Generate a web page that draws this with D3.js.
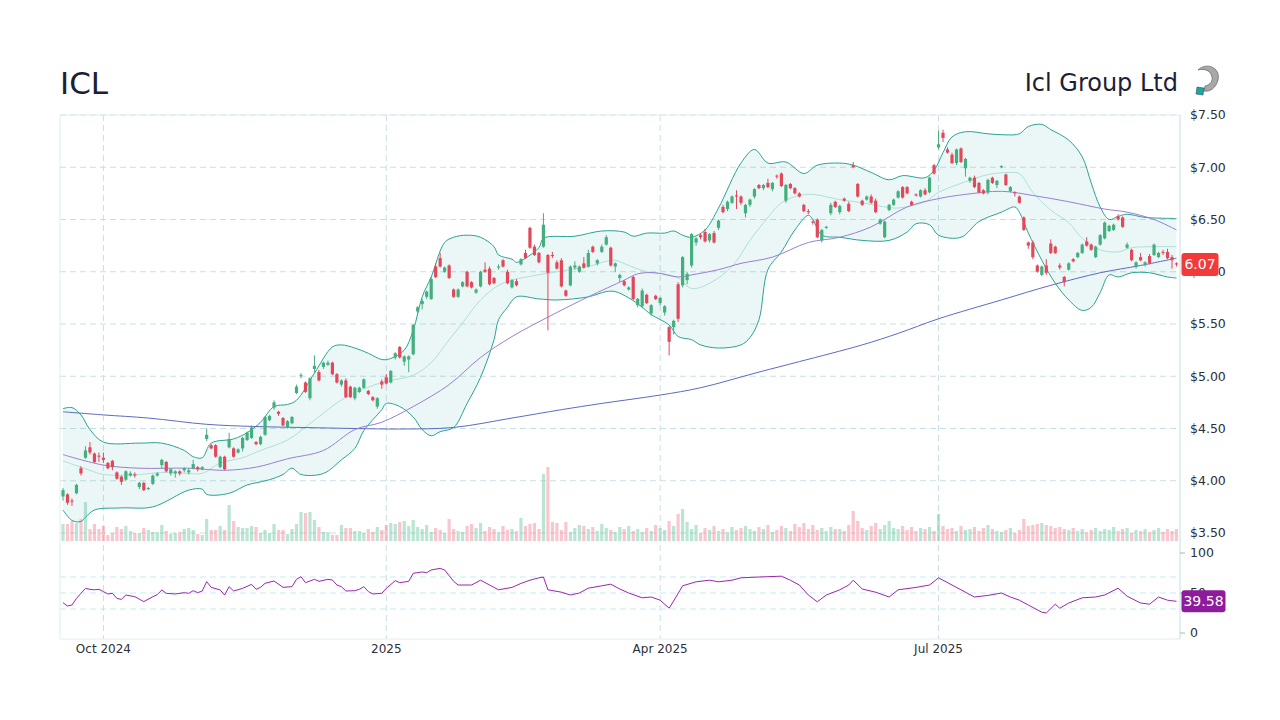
<!DOCTYPE html>
<html><head><meta charset="utf-8">
<script src="https://cdn.jsdelivr.net/npm/d3@7"></script>
<style>body{margin:0;background:#fff;}svg{display:block;font-family:"DejaVu Sans",sans-serif;}</style>
</head><body><svg id="c" width="1280" height="720"></svg>
<script>
// ---------- DATA ----------
const firstDay = "2024-09-18", lastDay = "2025-09-16";
const holidays = ["2024-11-28","2024-12-25","2025-01-01","2025-01-09","2025-01-20","2025-02-17","2025-04-18","2025-05-26","2025-06-19","2025-07-04","2025-09-01"];
const open = [3.85,3.87,3.81,3.88,4.12,4.22,4.32,4.26,4.24,4.22,4.17,4.19,4.08,4.04,4.01,4.05,4.06,3.94,3.98,3.92,3.97,4.05,4.15,4.18,4.07,4.07,4.09,4.10,4.08,4.12,4.13,4.11,4.40,4.34,4.34,4.13,4.23,4.32,4.31,4.27,4.31,4.39,4.41,4.37,4.35,4.44,4.58,4.70,4.66,4.60,4.51,4.55,4.84,5.00,4.94,4.79,5.07,5.04,5.09,5.11,5.13,5.02,4.92,4.96,4.90,4.79,4.85,4.89,4.86,4.80,4.71,4.95,4.99,4.94,5.18,5.28,5.14,5.16,5.21,5.62,5.69,5.76,5.74,6.05,6.13,6.00,6.06,5.83,5.76,5.86,6.00,5.90,5.80,5.86,6.02,6.03,5.94,6.04,6.11,6.00,5.85,5.91,6.07,6.18,6.42,6.24,6.18,6.24,6.16,6.16,6.09,6.11,5.82,5.87,6.04,6.00,6.08,6.05,6.24,6.08,6.19,6.26,6.23,6.05,5.94,5.91,5.83,5.95,5.68,5.67,5.78,5.60,5.77,5.70,5.61,5.47,5.47,5.88,5.87,5.92,6.06,6.28,6.35,6.38,6.30,6.37,6.42,6.62,6.60,6.66,6.73,6.72,6.56,6.64,6.72,6.83,6.80,6.85,6.79,6.92,6.94,6.68,6.84,6.80,6.75,6.64,6.58,6.48,6.50,6.30,6.42,6.56,6.67,6.57,6.70,6.65,7.02,6.84,6.68,6.69,6.72,6.68,6.46,6.33,6.59,6.64,6.71,6.81,6.81,6.67,6.74,6.72,6.78,6.76,7.02,7.19,7.33,7.17,7.12,7.04,7.18,6.99,6.87,6.90,6.85,6.78,6.76,6.90,6.83,7.00,6.93,6.77,6.76,6.72,6.52,6.28,6.28,6.06,5.97,6.06,6.27,6.24,6.06,5.95,6.02,6.12,6.14,6.18,6.29,6.26,6.14,6.26,6.32,6.39,6.40,6.53,6.52,6.23,6.21,6.05,6.14,6.07,6.15,6.16,6.14,6.19,6.19,6.14,6.08];
const high = [3.93,3.88,3.83,3.97,4.14,4.33,4.37,4.27,4.27,4.27,4.18,4.20,4.09,4.05,4.10,4.09,4.08,3.99,3.99,3.94,4.06,4.08,4.21,4.19,4.12,4.10,4.10,4.13,4.12,4.20,4.14,4.14,4.50,4.35,4.35,4.24,4.24,4.46,4.32,4.31,4.42,4.47,4.53,4.38,4.43,4.62,4.63,4.77,4.67,4.61,4.58,4.62,4.92,5.03,4.95,4.99,5.20,5.06,5.14,5.15,5.14,5.03,4.97,4.98,4.91,4.90,4.90,4.98,4.87,4.81,4.80,4.97,5.02,5.06,5.23,5.29,5.20,5.20,5.50,5.67,5.74,5.82,5.95,6.08,6.18,6.05,6.07,5.84,5.84,5.91,6.01,5.91,5.84,6.01,6.09,6.05,5.95,6.07,6.12,6.02,5.93,5.93,6.13,6.21,6.43,6.26,6.19,6.56,6.17,6.19,6.11,6.13,5.83,6.06,6.10,6.06,6.14,6.21,6.25,6.12,6.26,6.35,6.24,6.09,5.98,5.92,5.86,5.96,5.75,5.84,5.79,5.69,5.78,5.76,5.68,5.48,5.54,5.90,6.15,6.00,6.37,6.33,6.37,6.41,6.37,6.39,6.50,6.64,6.68,6.73,6.78,6.73,6.65,6.70,6.80,6.84,6.84,6.89,6.86,6.93,6.95,6.84,6.85,6.81,6.76,6.65,6.60,6.49,6.51,6.41,6.44,6.66,6.68,6.64,6.71,6.67,7.05,6.85,6.69,6.73,6.74,6.70,6.51,6.49,6.65,6.70,6.78,6.82,6.82,6.68,6.75,6.79,6.80,6.91,7.03,7.35,7.36,7.19,7.14,7.18,7.19,7.09,6.91,6.92,6.86,6.79,6.89,6.91,6.88,7.02,6.94,6.82,6.77,6.73,6.53,6.29,6.30,6.07,6.06,6.12,6.31,6.25,6.08,5.96,6.09,6.13,6.19,6.27,6.33,6.27,6.25,6.36,6.48,6.45,6.46,6.55,6.53,6.28,6.22,6.10,6.18,6.10,6.17,6.27,6.19,6.21,6.22,6.16,6.09];
const low = [3.81,3.77,3.76,3.87,4.05,4.21,4.25,4.17,4.18,4.17,4.11,4.10,4.01,3.96,4.00,4.04,4.03,3.92,3.90,3.91,3.96,4.04,4.12,4.08,4.05,4.03,4.05,4.08,4.06,4.11,4.09,4.10,4.38,4.30,4.22,4.12,4.10,4.31,4.22,4.26,4.28,4.38,4.40,4.34,4.34,4.43,4.57,4.68,4.62,4.52,4.50,4.54,4.83,4.98,4.84,4.77,5.03,4.95,5.07,5.10,5.01,4.93,4.90,4.79,4.79,4.77,4.84,4.88,4.82,4.76,4.69,4.88,4.92,4.93,5.16,5.17,5.10,5.04,5.20,5.60,5.64,5.74,5.73,5.94,6.04,5.99,5.93,5.75,5.75,5.85,5.85,5.84,5.79,5.85,5.99,5.87,5.88,6.02,6.04,5.88,5.84,5.86,6.06,6.12,6.22,6.15,6.08,6.23,5.44,6.13,6.02,5.85,5.76,5.86,6.02,5.99,6.03,6.04,6.18,6.06,6.18,6.25,6.05,6.00,5.90,5.86,5.82,5.73,5.66,5.65,5.69,5.58,5.73,5.68,5.58,5.20,5.40,5.52,5.85,5.88,6.04,6.25,6.31,6.28,6.28,6.27,6.40,6.56,6.58,6.65,6.60,6.64,6.52,6.62,6.70,6.79,6.78,6.80,6.77,6.89,6.81,6.66,6.79,6.74,6.71,6.57,6.55,6.45,6.32,6.28,6.41,6.54,6.61,6.55,6.67,6.57,6.99,6.71,6.63,6.68,6.65,6.56,6.45,6.32,6.58,6.63,6.70,6.70,6.74,6.63,6.72,6.71,6.73,6.75,6.93,7.17,7.24,7.13,7.03,7.02,7.04,6.91,6.85,6.80,6.75,6.74,6.74,6.84,6.80,6.99,6.82,6.76,6.72,6.65,6.39,6.22,6.12,5.99,5.96,5.97,6.17,6.17,6.02,5.86,6.01,6.09,6.13,6.17,6.24,6.20,6.13,6.25,6.31,6.38,6.39,6.49,6.42,6.22,6.10,6.03,6.10,6.05,6.07,6.15,6.13,6.16,6.12,6.03,6.05];
const close = [3.91,3.79,3.80,3.96,4.07,4.29,4.27,4.18,4.23,4.20,4.12,4.13,4.02,3.99,4.09,4.07,4.05,3.98,3.91,3.93,4.05,4.07,4.20,4.09,4.11,4.09,4.07,4.12,4.10,4.16,4.11,4.13,4.44,4.31,4.23,4.23,4.11,4.40,4.23,4.30,4.41,4.46,4.51,4.35,4.42,4.61,4.62,4.75,4.64,4.53,4.57,4.61,4.90,5.01,4.85,4.98,5.10,4.96,5.13,5.13,5.02,4.94,4.96,4.80,4.80,4.89,4.89,4.97,4.83,4.77,4.79,4.92,4.93,5.05,5.22,5.18,5.19,5.19,5.49,5.66,5.72,5.81,5.93,5.95,6.05,6.04,5.94,5.76,5.83,5.90,5.86,5.85,5.83,6.00,6.00,5.88,5.89,6.05,6.05,5.89,5.92,5.87,6.12,6.13,6.23,6.16,6.09,6.45,5.99,6.15,6.03,5.86,5.77,6.05,6.06,6.05,6.04,6.18,6.19,6.11,6.24,6.33,6.06,6.08,5.97,5.87,5.85,5.74,5.74,5.82,5.70,5.68,5.74,5.75,5.67,5.33,5.53,5.55,6.14,5.98,6.36,6.32,6.33,6.29,6.36,6.28,6.49,6.57,6.67,6.72,6.72,6.66,6.64,6.69,6.79,6.80,6.83,6.81,6.85,6.91,6.82,6.83,6.80,6.75,6.72,6.58,6.57,6.47,6.33,6.40,6.43,6.64,6.62,6.63,6.68,6.58,7.00,6.72,6.64,6.72,6.66,6.57,6.50,6.48,6.64,6.69,6.77,6.71,6.75,6.64,6.73,6.78,6.74,6.90,6.94,7.22,7.28,7.14,7.04,7.17,7.05,7.08,6.90,6.81,6.76,6.75,6.88,6.85,6.87,7.01,6.83,6.81,6.75,6.66,6.40,6.25,6.14,6.00,6.05,5.99,6.18,6.18,6.04,5.90,6.08,6.10,6.18,6.26,6.25,6.21,6.24,6.35,6.47,6.44,6.45,6.50,6.43,6.26,6.11,6.09,6.11,6.09,6.08,6.26,6.18,6.18,6.13,6.11,6.07];
// volume in millions of shares
const volume = [1.7,1.7,2.0,1.8,2.2,3.9,1.2,1.7,1.2,1.5,0.6,0.8,1.4,1.2,1.5,1.0,0.8,0.8,1.3,1.1,0.9,0.9,1.6,1.0,0.7,0.8,0.9,1.2,1.3,1.1,0.7,0.6,2.2,1.1,1.1,1.5,1.1,3.6,2.0,1.4,1.3,1.3,1.5,1.4,0.8,1.1,0.8,1.7,1.1,1.1,0.7,1.2,1.7,2.9,2.8,2.9,2.1,1.4,0.9,0.9,0.6,0.6,1.6,1.3,1.3,1.0,1.0,0.8,1.2,0.9,1.4,1.1,1.6,1.8,1.7,1.9,2.0,1.5,2.1,1.4,1.2,1.6,0.9,1.3,1.1,0.8,2.2,1.2,1.0,0.9,1.5,1.7,1.3,1.8,1.0,1.4,1.2,0.9,1.5,1.1,1.2,1.0,2.3,1.5,1.7,1.8,1.2,6.7,7.4,1.9,1.8,1.1,1.9,0.9,1.3,1.6,1.5,1.2,1.4,1.0,1.7,1.3,1.1,0.9,1.4,1.2,1.5,1.0,1.2,0.9,1.3,1.0,1.6,1.3,1.1,2.0,1.5,2.7,3.2,1.9,1.2,1.6,0.8,1.3,1.1,1.5,1.0,1.2,0.9,1.4,1.1,1.3,1.5,1.2,1.0,1.4,1.2,1.6,0.9,1.1,1.5,1.3,1.0,1.7,1.4,1.8,1.2,1.6,1.1,1.3,1.0,1.4,1.2,1.2,1.0,1.6,3.0,2.0,1.3,1.1,1.5,1.8,1.2,1.6,2.0,1.3,1.2,1.5,1.1,1.4,1.0,1.3,1.2,1.4,1.0,2.7,1.5,1.2,1.3,1.0,1.5,1.1,1.2,1.4,1.0,1.3,1.6,1.2,1.0,0.9,1.1,1.3,0.8,1.1,2.2,1.5,1.6,1.7,1.8,1.6,1.5,1.3,1.4,1.2,1.1,1.3,1.0,1.2,0.9,1.1,1.3,1.0,1.2,1.1,1.4,1.0,1.2,1.3,0.8,1.1,1.0,1.2,0.9,1.1,1.3,0.9,1.2,1.0,1.2];
// indicator readings: [trading-day index, value]
const sma200 = [[0,4.66],[9,4.63],[19,4.60],[32,4.54],[42,4.52],[53,4.51],[65,4.50],[75,4.495],[87,4.51],[100,4.60],[111,4.68],[120,4.74],[133,4.82],[142,4.89],[155,5.04],[164,5.14],[178,5.30],[186,5.41],[195,5.55],[209,5.73],[220,5.87],[231,5.99],[240,6.06],[248,6.13]];
const sma50 = [[0,4.25],[9,4.15],[17,4.12],[28,4.12],[36,4.10],[43,4.13],[50,4.21],[58,4.29],[65,4.49],[71,4.56],[78,4.71],[86,4.92],[93,5.18],[100,5.38],[110,5.61],[117,5.76],[125,5.92],[128,5.98],[132,5.99],[137,5.95],[140,5.97],[146,6.02],[151,6.08],[158,6.14],[166,6.28],[173,6.33],[180,6.43],[188,6.62],[195,6.70],[201,6.74],[209,6.77],[216,6.73],[224,6.67],[232,6.60],[237,6.57],[243,6.50],[248,6.40]];
const bbUpper = [[0,4.69],[2,4.70],[4,4.63],[6,4.49],[9,4.37],[17,4.36],[22,4.36],[27,4.29],[29,4.23],[31,4.22],[33,4.36],[38,4.40],[41,4.46],[44,4.56],[47,4.71],[50,4.73],[52,4.77],[56,5.03],[60,5.28],[62,5.30],[65,5.27],[68,5.22],[71,5.16],[73,5.17],[76,5.25],[78,5.44],[80,5.76],[82,5.95],[85,6.28],[87,6.33],[90,6.35],[93,6.33],[96,6.24],[97,6.16],[100,6.12],[101,6.09],[103,6.13],[106,6.23],[107,6.32],[114,6.34],[120,6.39],[125,6.38],[127,6.34],[130,6.37],[134,6.37],[136,6.39],[138,6.35],[140,6.33],[143,6.40],[146,6.61],[151,7.04],[154,7.17],[157,7.04],[161,7.05],[165,6.94],[168,7.02],[173,7.04],[176,7.02],[180,6.95],[184,6.88],[187,6.92],[192,6.90],[194,6.97],[196,7.14],[198,7.29],[201,7.34],[206,7.32],[210,7.31],[213,7.32],[215,7.39],[218,7.41],[220,7.36],[224,7.26],[227,7.10],[229,6.85],[231,6.62],[233,6.50],[235,6.53],[237,6.55],[241,6.52],[248,6.51]];
const bbMiddle = [[0,4.19],[6,4.10],[9,4.06],[17,4.06],[22,4.08],[28,4.07],[31,4.07],[35,4.17],[40,4.22],[44,4.29],[50,4.39],[56,4.58],[63,4.80],[71,4.94],[78,5.01],[82,5.13],[86,5.35],[89,5.51],[93,5.73],[97,5.87],[100,5.92],[102,5.94],[110,6.00],[117,6.05],[121,6.10],[123,6.11],[126,6.06],[130,6.00],[135,5.97],[137,5.94],[140,5.84],[144,5.89],[149,6.05],[153,6.30],[157,6.52],[160,6.66],[164,6.73],[167,6.74],[173,6.69],[178,6.66],[183,6.62],[186,6.61],[192,6.67],[195,6.76],[201,6.86],[206,6.93],[211,6.95],[213,6.94],[216,6.76],[220,6.59],[224,6.47],[227,6.32],[231,6.21],[235,6.19],[238,6.23],[243,6.24],[248,6.24]];
const bbLower = [[0,3.72],[2,3.62],[4,3.61],[5,3.65],[7,3.72],[13,3.74],[20,3.75],[28,3.91],[31,3.92],[32,3.87],[37,3.88],[41,3.96],[43,3.98],[46,4.01],[49,4.06],[51,4.12],[53,4.06],[58,4.07],[62,4.20],[65,4.31],[67,4.48],[71,4.68],[72,4.74],[75,4.71],[78,4.61],[80,4.49],[82,4.43],[84,4.47],[87,4.51],[90,4.74],[93,4.99],[96,5.35],[97,5.54],[99,5.66],[101,5.76],[106,5.74],[110,5.73],[117,5.76],[121,5.81],[123,5.81],[126,5.75],[129,5.66],[131,5.59],[135,5.49],[137,5.38],[140,5.35],[142,5.30],[146,5.27],[151,5.30],[153,5.37],[155,5.54],[157,6.02],[160,6.19],[163,6.40],[166,6.54],[167,6.50],[169,6.35],[173,6.33],[178,6.30],[184,6.30],[188,6.38],[190,6.46],[193,6.45],[195,6.35],[200,6.33],[204,6.48],[209,6.57],[212,6.62],[213,6.57],[215,6.37],[218,6.11],[221,5.89],[224,5.73],[227,5.63],[229,5.66],[231,5.80],[233,5.97],[235,5.95],[238,5.99],[242,5.99],[246,5.95],[248,5.94]];
const rsi = [[0,37.9],[1,33.8],[2,35],[3,43.3],[4,49.6],[5,55.8],[6,54.6],[7,54],[8,54.6],[9,51.7],[10,48.8],[11,49.6],[12,43.3],[13,42],[14,47.5],[16,45.4],[18,39.2],[20,45.4],[21,47.9],[22,53.8],[23,49.6],[25,48.8],[27,50.4],[28,49.6],[29,52.9],[30,50.4],[31,52.5],[32,64.2],[33,57.1],[35,53.8],[36,47.5],[37,57.9],[38,52.5],[40,55.8],[42,60.8],[43,54.6],[44,57.1],[45,62.1],[47,65],[49,57.1],[51,57.9],[52,67.1],[53,70.4],[54,62.9],[56,67.1],[57,64.6],[59,67.1],[60,66.3],[61,60],[62,57.9],[63,52.5],[65,52.9],[66,54.6],[67,57.9],[68,51.7],[69,48.8],[71,49.6],[72,55.8],[74,65.4],[75,62.9],[77,64.6],[78,74.6],[80,76.3],[81,75.4],[82,78.8],[84,80.8],[85,78.8],[87,64.6],[88,60],[91,60],[93,66],[95,60],[97,54],[100,57],[102,62],[104,66],[106,69],[107,70],[108,54],[111,51],[113,47.5],[115,50],[117,56],[120,59],[122,61],[124,55],[126,50],[129,44],[131,45],[133,41],[135,31],[136,40],[138,59],[141,64],[144,66],[146,64],[149,66],[151,69],[155,70],[160,71],[162,66],[164,60],[166,47.5],[168,39],[170,47.5],[173,54],[175,60],[176,66],[178,55],[181,51],[184,45],[186,54],[190,57],[193,60],[195,69],[198,60],[200,54],[203,45],[206,47],[209,50],[211,45],[213,41],[215,35],[218,26],[219,25],[221,36],[222,31],[224,37.5],[227,44],[230,45],[232,47.5],[235,56],[237,46],[240,37.5],[242,36],[244,45],[246,41],[248,39.58]];
const priceTicks = [3.5,4.0,4.5,5.0,5.5,6.0,6.5,7.0,7.5];
const rsiTicks = [0,50,100];
const rsiGrid = [30,50,70];
const monthTicks = ["2024-10-01","2025-01-01","2025-04-01","2025-07-01"];
const monthLabels = ["Oct 2024","2025","Apr 2025","Jul 2025"];
const ticker = "ICL", company = "Icl Group Ltd";
const lastPriceLabel = "6.07", lastRsiLabel = "39.58";

// ---------- TRADING CALENDAR ----------
const tradeDates = [];
{
  let d = new Date(firstDay + "T00:00:00Z"); const end = new Date(lastDay + "T00:00:00Z");
  while (d <= end) {
    const wd = d.getUTCDay(); const key = d.toISOString().slice(0, 10);
    if (wd !== 0 && wd !== 6 && !holidays.includes(key)) tradeDates.push(key);
    d.setUTCDate(d.getUTCDate() + 1);
  }
}
// index of the last trading day on or before a date
const idxOfDate = s => { let k = 0; tradeDates.forEach((t, i) => { if (t <= s) k = i; }); return k; };

// ---------- LAYOUT ----------
const X0 = 60, X1 = 1180, PT = 115, PB = 541, RB = 639;
const svg = d3.select("#c");
const n = close.length;
const x = d3.scaleLinear().domain([-0.67, n - 0.22]).range([X0, X1]);
const y = d3.scaleLinear().domain([3.5, 7.5]).range([533, 115]);
const vy = d3.scaleLinear().domain([0, 8.5]).range([PB, PB - 85]);
const ry = d3.scaleLinear().domain([0, 100]).range([633, 553]);

const up = "#43ae7e", down = "#e2485b";
const textCol = "#2c2f3a";

const defs = svg.append("defs");
defs.append("clipPath").attr("id", "cp").append("rect").attr("x", X0).attr("y", PT).attr("width", X1 - X0).attr("height", PB - PT);
defs.append("clipPath").attr("id", "cr").append("rect").attr("x", X0).attr("y", PB).attr("width", X1 - X0).attr("height", RB - PB);

// titles
svg.append("text").attr("x", 60).attr("y", 94).attr("font-size", 31).attr("fill", "#1d2033").text(ticker);
svg.append("text").attr("x", 1178).attr("y", 91).attr("text-anchor", "end").attr("font-size", 24).attr("fill", "#1d2033").text(company);
// logo
const logo = svg.append("g");
logo.append("path").attr("d", "M1198,70 C1206,62 1221,67 1218,80 C1216,88 1210,92 1204,91 L1205,86 C1210,85 1213,81 1212,77 C1211,71 1205,68 1198,70 Z")
  .attr("fill", "#a8a8a8").attr("stroke", "#6f6f6f").attr("stroke-width", 0.8);
logo.append("path").attr("d", "M1197,87 L1204,88 L1203,95 L1196,94 Z").attr("fill", "#1aa7a8").attr("stroke", "#333").attr("stroke-width", 0.5);

// gridlines
const grid = svg.append("g");
grid.selectAll("line.h").data(priceTicks).join("line")
  .attr("x1", X0).attr("x2", X1).attr("y1", d => y(d)).attr("y2", d => y(d))
  .attr("stroke", "#c9dfe6").attr("stroke-dasharray", "6,4");
grid.selectAll("line.r").data(rsiGrid).join("line")
  .attr("x1", X0).attr("x2", X1).attr("y1", d => ry(d)).attr("y2", d => ry(d))
  .attr("stroke", "#c4ebf7").attr("stroke-dasharray", "6,4");
grid.selectAll("line.v").data(monthTicks).join("line")
  .attr("x1", d => x(idxOfDate(d))).attr("x2", d => x(idxOfDate(d))).attr("y1", PT).attr("y2", RB)
  .attr("stroke", "#c9dfe6").attr("stroke-dasharray", "6,4");

// borders
svg.append("line").attr("x1", X0).attr("x2", X1).attr("y1", PT).attr("y2", PT).attr("stroke", "#e2edf1");
svg.append("line").attr("x1", X0).attr("x2", X0).attr("y1", PT).attr("y2", RB).attr("stroke", "#e2edf1");
svg.append("line").attr("x1", X0).attr("x2", X1).attr("y1", RB).attr("y2", RB).attr("stroke", "#e2edf1");
svg.append("line").attr("x1", X1).attr("x2", X1).attr("y1", PT).attr("y2", RB).attr("stroke", "#c6dfe5");

const pg = svg.append("g").attr("clip-path", "url(#cp)");
const curve = d3.curveCatmullRom.alpha(0.5);
const pline = d3.line().x(d => x(d[0])).y(d => y(d[1])).curve(curve);

// Bollinger fill
const areaD = pline(bbUpper) + "L" + pline(bbLower.slice().reverse()).slice(1) + "Z";
pg.append("path").attr("d", areaD).attr("fill", "#26a69a").attr("fill-opacity", 0.09);

// volume
pg.selectAll("rect.vol").data(volume).join("rect")
  .attr("x", (d, i) => x(i) - 1.6).attr("width", 3.2)
  .attr("y", d => vy(d)).attr("height", d => PB - vy(d))
  .attr("fill", (d, i) => close[i] >= open[i] ? "#5cc095" : "#f0788a").attr("fill-opacity", 0.42);

// indicator lines
pg.append("path").attr("d", pline(bbMiddle)).attr("fill", "none").attr("stroke", "#aee0d6").attr("stroke-width", 1);
pg.append("path").attr("d", pline(bbUpper)).attr("fill", "none").attr("stroke", "#2aa392").attr("stroke-width", 1);
pg.append("path").attr("d", pline(bbLower)).attr("fill", "none").attr("stroke", "#2aa392").attr("stroke-width", 1);
pg.append("path").attr("d", pline(sma200)).attr("fill", "none").attr("stroke", "#5c6bc0").attr("stroke-width", 1);
pg.append("path").attr("d", pline(sma50)).attr("fill", "none").attr("stroke", "#9a7fd1").attr("stroke-width", 1);

// candles
const cg = pg.append("g");
open.forEach((o, i) => {
  const c = close[i];
  const h = Math.max(high[i], o, c), l = Math.min(low[i], o, c);
  const col = c >= o ? up : down;
  const xx = x(i);
  cg.append("line").attr("x1", xx).attr("x2", xx).attr("y1", y(h)).attr("y2", y(l)).attr("stroke", col).attr("stroke-width", 1);
  const top = y(Math.max(o, c)), bot = y(Math.min(o, c));
  cg.append("rect").attr("x", xx - 1.6).attr("width", 3.2).attr("y", top).attr("height", Math.max(1, bot - top)).attr("fill", col);
});

// RSI
const rg = svg.append("g").attr("clip-path", "url(#cr)");
rg.append("path").attr("d", d3.line().x(d => x(d[0])).y(d => ry(d[1]))(rsi))
  .attr("fill", "none").attr("stroke", "#9a27ab").attr("stroke-width", 1);

// right axes
const ax = svg.append("g").attr("font-size", 12.5).attr("fill", textCol);
ax.selectAll("text.p").data(priceTicks).join("text")
  .attr("x", 1190).attr("y", d => y(d)).attr("dy", "0.35em").text(d => "$" + d.toFixed(2));
ax.selectAll("text.r").data(rsiTicks).join("text")
  .attr("x", 1190).attr("y", d => ry(d)).attr("dy", "0.35em").text(d => d);
svg.selectAll("line.rt").data(rsiTicks).join("line")
  .attr("x1", X1).attr("x2", X1 + 5).attr("y1", d => ry(d)).attr("y2", d => ry(d)).attr("stroke", "#9fb8c0");
// x axis labels
ax.selectAll("text.m").data(monthTicks).join("text")
  .attr("x", d => x(idxOfDate(d))).attr("y", 649).attr("dy", "0.35em").attr("text-anchor", "middle")
  .attr("font-size", 12).text((d, i) => monthLabels[i]);

// last value labels
const lpY = y(close[n - 1]);
svg.append("rect").attr("x", 1181.5).attr("y", lpY - 11.5).attr("width", 37).attr("height", 23).attr("rx", 3).attr("fill", "#f23a3a");
svg.append("text").attr("x", 1200).attr("y", lpY).attr("dy", "0.36em").attr("text-anchor", "middle").attr("font-size", 14).attr("fill", "#fff").text(lastPriceLabel);
const lrY = ry(rsi[rsi.length - 1][1]);
svg.append("rect").attr("x", 1181.5).attr("y", lrY - 11).attr("width", 44).attr("height", 22).attr("rx", 3).attr("fill", "#8d1b9c");
svg.append("text").attr("x", 1203.5).attr("y", lrY).attr("dy", "0.36em").attr("text-anchor", "middle").attr("font-size", 14).attr("fill", "#fff").text(lastRsiLabel);
</script></body></html>
